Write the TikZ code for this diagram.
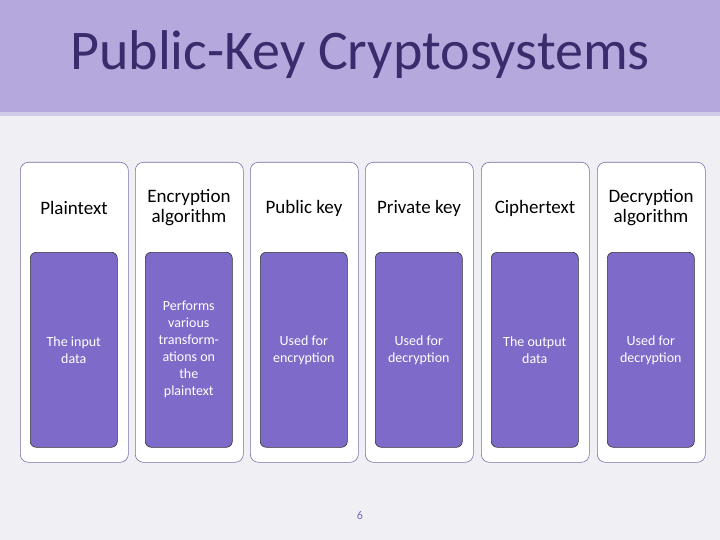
\documentclass[tikz,border=0pt]{standalone}
\usepackage{fontspec}
\setmainfont{Carlito}
\definecolor{bg}{HTML}{F0EFF3}
\definecolor{band}{HTML}{B4A8DC}
\definecolor{ttl}{HTML}{3A2C6C}
\definecolor{inner}{HTML}{7E6AC8}
\definecolor{edge}{HTML}{7A6FA8}
\tikzset{outerbox/.style={draw=edge,fill=white,rounded corners=8pt,line width=0.6pt,minimum width=108pt,minimum height=300pt,anchor=north west,inner sep=0pt},
innerbox/.style={draw=black!80,fill=inner,rounded corners=6pt,line width=0.6pt,minimum width=87pt,minimum height=195pt,anchor=north west,inner sep=0pt},
head/.style={font=\fontsize{19}{20}\selectfont,align=center},
body/.style={text=white,font=\fontsize{14}{17}\selectfont,align=center}}
\begin{document}
\begin{tikzpicture}[x=1pt,y=1pt]
\fill[bg] (0,0) rectangle (720,-540);
\useasboundingbox (0,0) rectangle (720,-540);
\fill[band] (0,0) rectangle (720,-112);
\fill[band!60] (0,-112) rectangle (720,-116);
\node[text=ttl,font=\fontsize{56}{60}\selectfont] (title) at (360,-55) {Public-Key Cryptosystems};
\foreach \x/\h/\b [count=\i] in {20/Plaintext/{The input\\data},135/{Encryption\\algorithm}/{Performs\\various\\transform-\\ations on\\the\\plaintext},250/Public key/{Used for\\encryption},365/Private key/{Used for\\decryption},481/Ciphertext/{The output\\data},597/{Decryption\\algorithm}/{Used for\\decryption}}{
\node[outerbox] (o\i) at (\x,-162) {};
\node[head] (h\i) at (\x+54,-208) {\h};
\node[innerbox] (in\i) at (\x+10,-252) {};
\node[body] (t\i) at (in\i.center) {\b};
}
\node[text=inner,font=\fontsize{12}{14}\selectfont] (pg) at (360,-515) {6};
\end{tikzpicture}
\end{document}
